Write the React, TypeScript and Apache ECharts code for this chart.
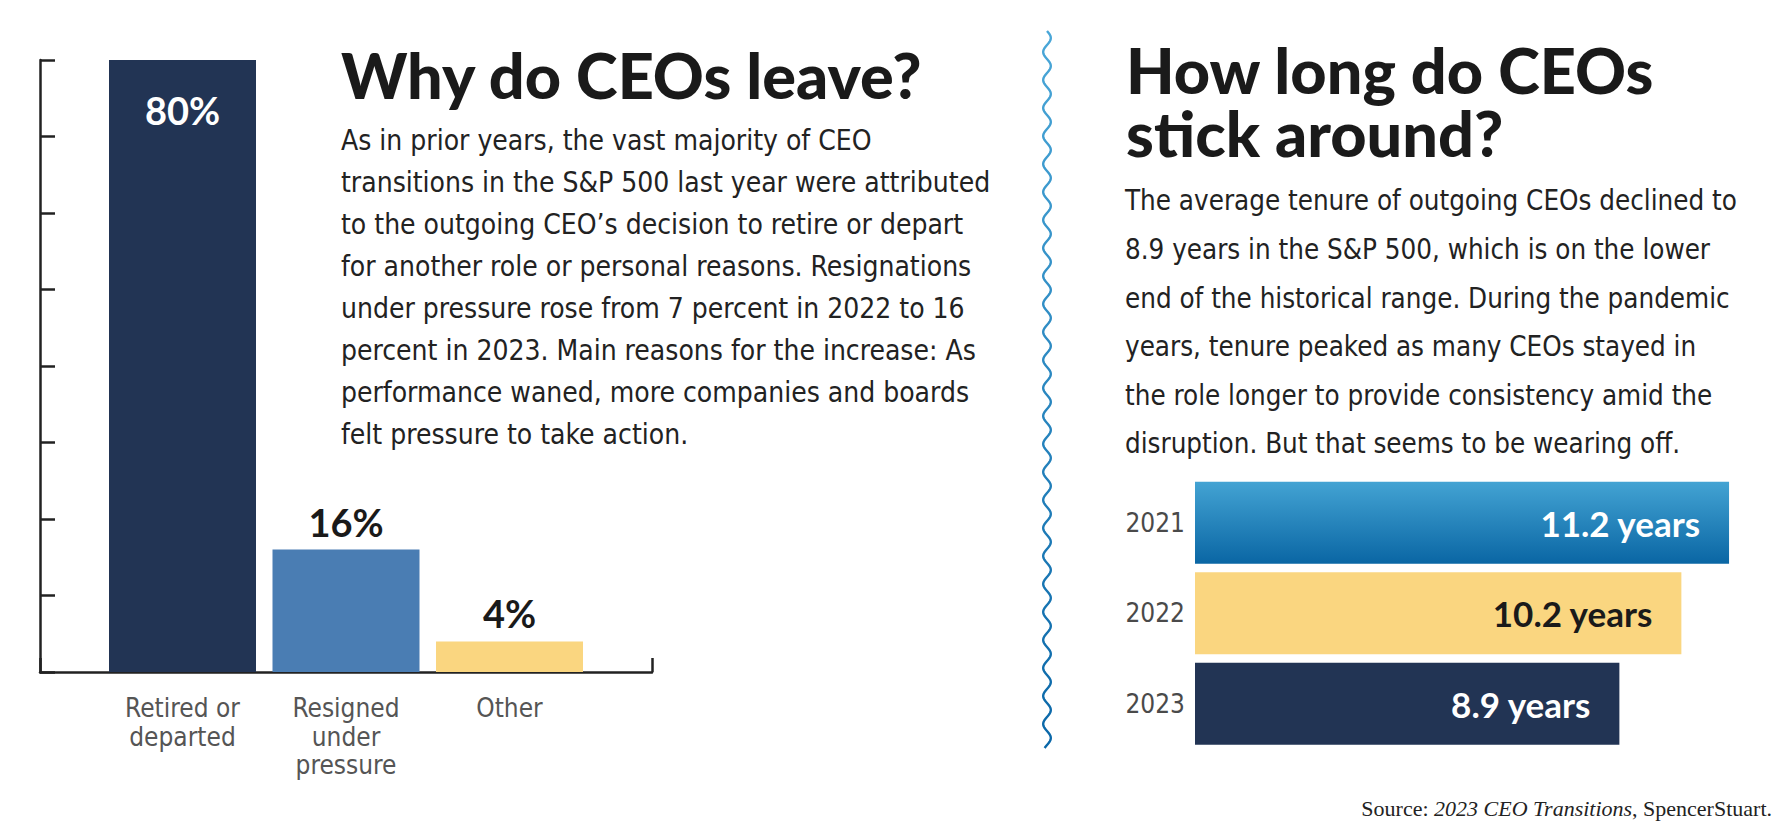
import React, { useEffect, useRef } from "react";
import * as echarts from "echarts";

// ---- data ----
const reasonCategories = ["Retired or\ndeparted", "Resigned\nunder\npressure", "Other"];
const reasonValues = [80, 16, 4];
const reasonColors = ["#223454", "#4a7db3", "#fad680"];
const reasonAxisMax = 80;
const reasonAxisInterval = 10;

const tenureYears = ["2021", "2022", "2023"];
const tenureValues = [11.2, 10.2, 8.9];
const tenureLabelColors = ["#ffffff", "#1a1a1a", "#ffffff"];
const tenureAxisMax = 12;

const leftTitle = "Why do CEOs leave?";
const leftText = [
  "As in prior years, the vast majority of CEO",
  "transitions in the S&P 500 last year were attributed",
  "to the outgoing CEO\u2019s decision to retire or depart",
  "for another role or personal reasons. Resignations",
  "under pressure rose from 7 percent in 2022 to 16",
  "percent in 2023. Main reasons for the increase: As",
  "performance waned, more companies and boards",
  "felt pressure to take action.",
];
const rightTitle = ["How long do CEOs", "stick around?"];
const rightText = [
  "The average tenure of outgoing CEOs declined to",
  "8.9 years in the S&P 500, which is on the lower",
  "end of the historical range. During the pandemic",
  "years, tenure peaked as many CEOs stayed in",
  "the role longer to provide consistency amid the",
  "disruption. But that seems to be wearing off.",
];

const COND = "'Liberation Sans Narrow', 'DejaVu Sans Condensed', Roboto, sans-serif";
const BOLD = "Lato, 'Open Sans', Roboto, sans-serif";
const SERIF = "'Liberation Serif', 'DejaVu Serif', serif";

function wavePoints(x: number, y0: number, y1: number, amp: number, period: number) {
  const pts: number[][] = [];
  for (let y = y0; y <= y1; y += 1) {
    pts.push([x + amp * Math.sin(((y - y0) / period) * Math.PI * 2), y]);
  }
  return pts;
}

export default function App() {
  const ref = useRef<HTMLDivElement>(null);
  useEffect(() => {
    if (!ref.current) return;
    const chart = echarts.init(ref.current, undefined, { renderer: "svg" });
    const blueGrad = new echarts.graphic.LinearGradient(0, 0, 0, 1, [
      { offset: 0, color: "#43a3d3" },
      { offset: 1, color: "#0a66a4" },
    ]);
    const tenureColors = [blueGrad, "#fad680", "#223454"];
    const axisStyle = { color: "#222", width: 2.5 };

    const titleStyle = {
      fontSize: 63,
      lineHeight: 58,
      fontWeight: 900,
      fontFamily: BOLD,
      fill: "#1a1a1a",
      verticalAlign: "middle",
    };

    const option: any = {
      animation: false,
      backgroundColor: "#ffffff",
      grid: [
        { left: 100.75, width: 490.5, top: 60, height: 612 },
        { left: 40, width: 612, top: 60, height: 612 },
        { left: 1195, width: 572.2, top: 477.5, height: 271.5 },
      ],
      xAxis: [
        {
          gridIndex: 0,
          type: "category",
          data: reasonCategories,
          axisLine: { show: false },
          axisTick: { show: false },
          axisLabel: {
            interval: 0,
            margin: 22,
            fontSize: 26,
            lineHeight: 28.5,
            color: "#555555",
            fontFamily: COND,
          },
        },
        {
          gridIndex: 1,
          type: "value",
          min: 0,
          max: 1,
          interval: 1,
          axisLine: { show: true, lineStyle: axisStyle },
          axisTick: { show: true, inside: true, length: 14, lineStyle: axisStyle },
          axisLabel: { show: false },
          splitLine: { show: false },
        },
        { gridIndex: 2, type: "value", min: 0, max: tenureAxisMax, show: false },
      ],
      yAxis: [
        { gridIndex: 0, type: "value", min: 0, max: reasonAxisMax, show: false },
        {
          gridIndex: 1,
          type: "value",
          min: 0,
          max: reasonAxisMax,
          interval: reasonAxisInterval,
          axisLine: { show: true, lineStyle: axisStyle },
          axisTick: { show: true, inside: true, length: 15, lineStyle: axisStyle },
          axisLabel: { show: false },
          splitLine: { show: false },
        },
        {
          gridIndex: 2,
          type: "category",
          data: tenureYears,
          inverse: true,
          axisLine: { show: false },
          axisTick: { show: false },
          axisLabel: { margin: 10, fontSize: 26, color: "#4a4a4a", fontFamily: COND },
        },
      ],
      series: [
        {
          type: "bar",
          xAxisIndex: 0,
          yAxisIndex: 0,
          barWidth: 147,
          data: reasonValues.map((v, i) => ({
            value: v,
            itemStyle: { color: reasonColors[i] },
            label:
              i === 0
                ? { show: true, position: "insideTop", distance: 31, color: "#ffffff" }
                : { show: true, position: "top", distance: 9, color: "#1a1a1a" },
          })),
          label: {
            formatter: "{c}%",
            fontSize: 38,
            lineHeight: 38,
            fontWeight: "bold",
            fontFamily: BOLD,
          },
        },
        {
          type: "bar",
          xAxisIndex: 2,
          yAxisIndex: 2,
          barWidth: 82,
          data: tenureValues.map((v, i) => ({
            value: v,
            itemStyle: { color: tenureColors[i] },
            label: { color: tenureLabelColors[i] },
          })),
          label: {
            show: true,
            position: "insideRight",
            distance: 29,
            formatter: "{c} years",
            fontSize: 35,
            fontWeight: "bold",
            fontFamily: BOLD,
          },
        },
      ],
      graphic: [
        {
          type: "text",
          x: 341,
          y: 74,
          style: { ...titleStyle, text: leftTitle },
        },
        {
          type: "text",
          x: 341,
          y: 119,
          style: {
            text: leftText.join("\n"),
            fontSize: 28,
            lineHeight: 42,
            fontFamily: COND,
            fill: "#222222",
            verticalAlign: "top",
          },
        },
        {
          type: "text",
          x: 1126,
          y: 69,
          style: { ...titleStyle, text: rightTitle[0] },
        },
        {
          type: "text",
          x: 1126,
          y: 132,
          style: { ...titleStyle, text: rightTitle[1] },
        },
        {
          type: "text",
          x: 1125,
          y: 176,
          style: {
            text: rightText.join("\n"),
            fontSize: 27.5,
            lineHeight: 48.6,
            fontFamily: COND,
            fill: "#222222",
            verticalAlign: "top",
          },
        },
        {
          type: "polyline",
          shape: { points: wavePoints(1047, 31, 748, 3.8, 28) },
          style: {
            fill: null,
            lineWidth: 2.4,
            stroke: new echarts.graphic.LinearGradient(0, 0, 0, 1, [
              { offset: 0, color: "#4aa7d8" },
              { offset: 1, color: "#0a67a8" },
            ]),
          },
        },
        {
          type: "text",
          x: 1772,
          y: 808,
          style: {
            text: "Source: {i|2023 CEO Transitions}, SpencerStuart.",
            fontSize: 22,
            fontFamily: SERIF,
            fill: "#222222",
            align: "right",
            verticalAlign: "middle",
            rich: {
              i: { fontStyle: "italic", fontSize: 22, fontFamily: SERIF, fill: "#222222" },
            },
          },
        },
      ],
    };
    chart.setOption(option);
    return () => chart.dispose();
  }, []);
  return (
    <div
      ref={ref}
      style={{ position: "absolute", left: 0, top: 0, width: 1790, height: 832 }}
    />
  );
}
